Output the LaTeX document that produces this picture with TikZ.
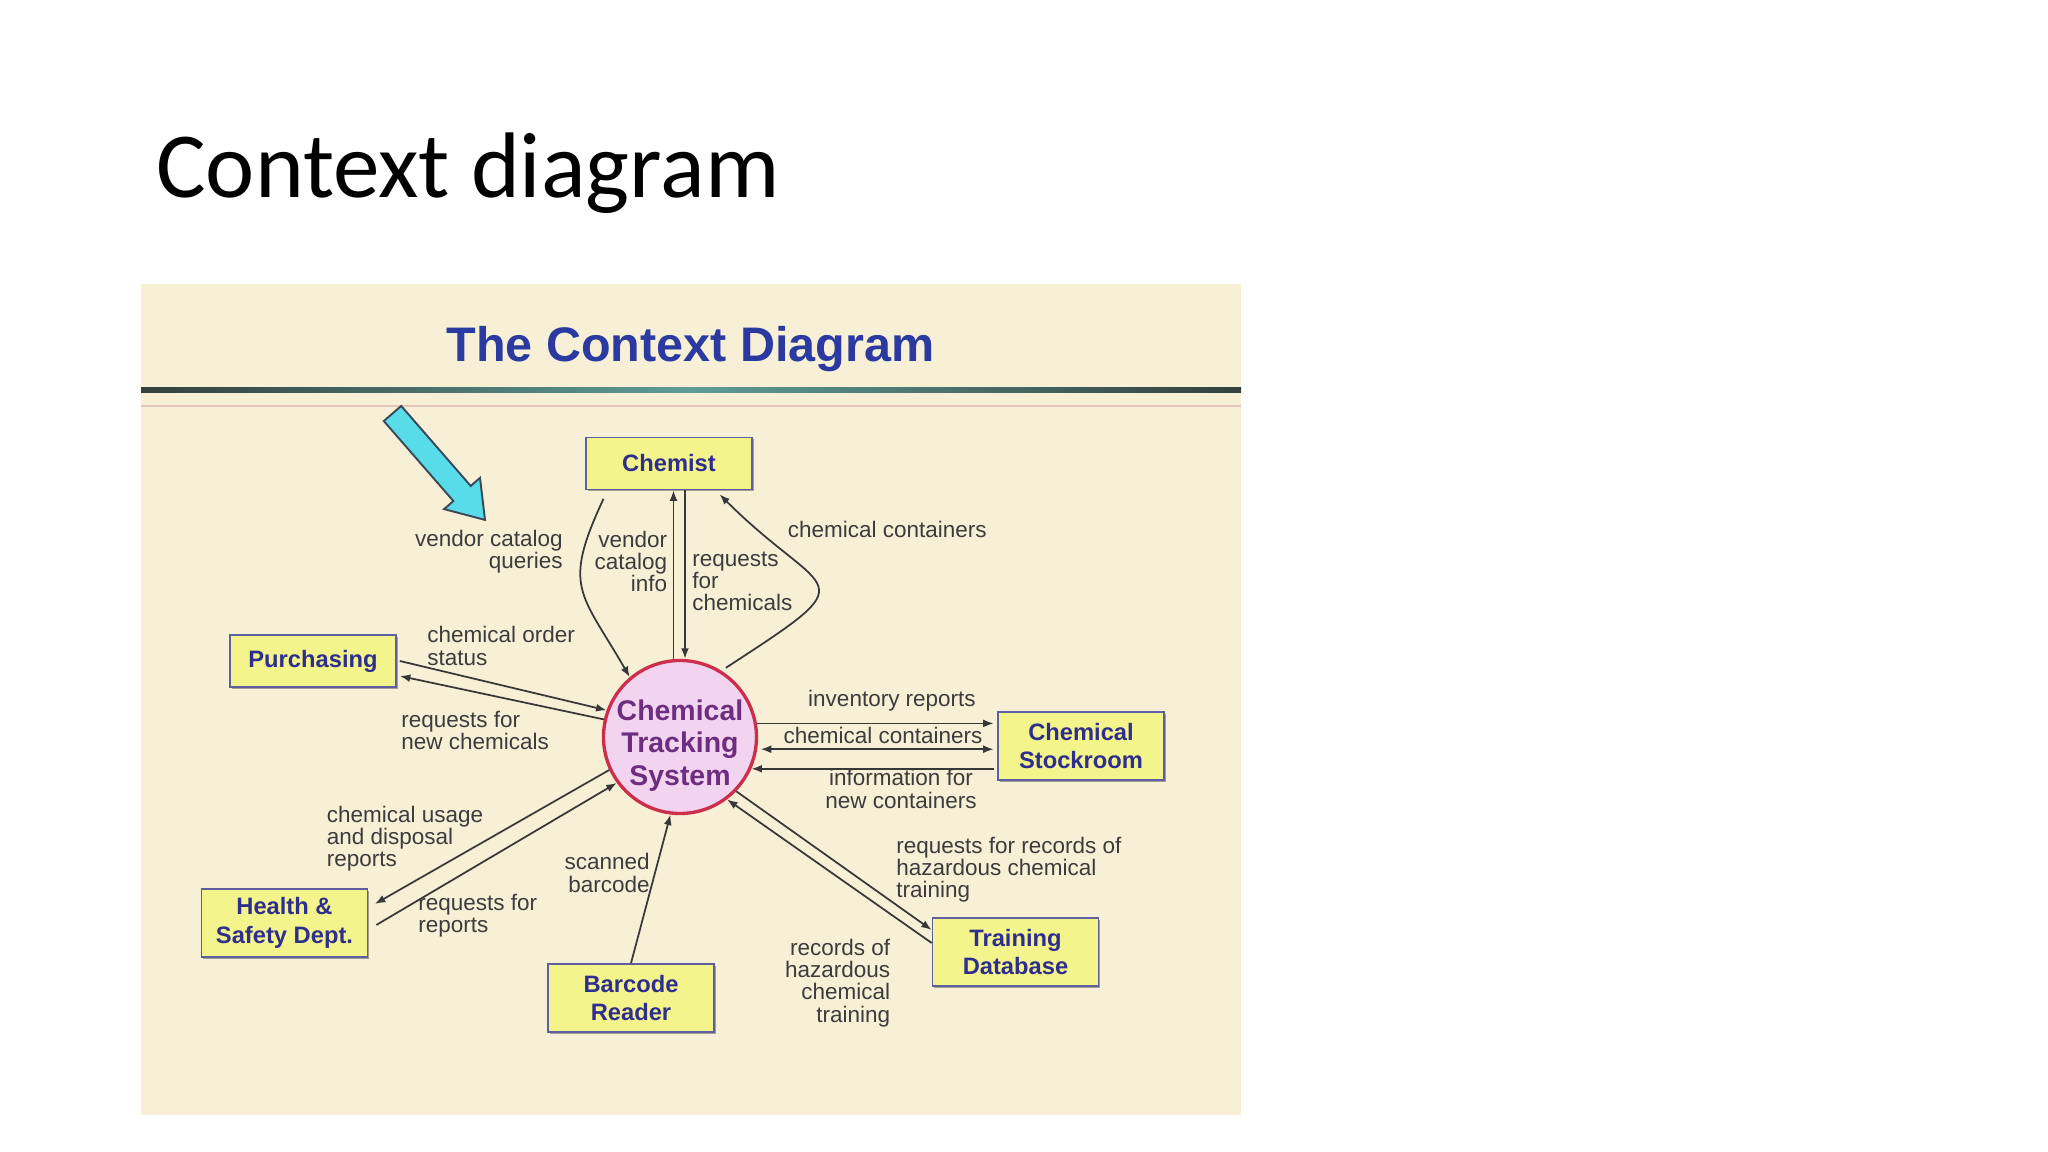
\documentclass[tikz,border=0pt]{standalone}
\usepackage{fontspec}
\setmainfont{Liberation Sans}
\newfontfamily\slidefont{Carlito}
\usetikzlibrary{arrows.meta, shadows}

\definecolor{panelbg}{HTML}{F8F0D6}
\definecolor{boxfill}{HTML}{F4F48C}
\definecolor{boxline}{HTML}{5E5EA0}
\definecolor{boxtext}{HTML}{2E2E8E}
\definecolor{circfill}{HTML}{F2D4F0}
\definecolor{circline}{HTML}{CC2E4C}
\definecolor{circtext}{HTML}{6E2E80}
\definecolor{linec}{HTML}{383838}
\definecolor{labelc}{HTML}{3C3C3C}
\definecolor{headblue}{HTML}{2A3AA0}
\definecolor{ruledark}{HTML}{34403C}
\definecolor{rulemid}{HTML}{5E9C98}
\definecolor{rulepink}{HTML}{E6C4C0}
\definecolor{arrowcyan}{HTML}{58DCEA}
\definecolor{arrowedge}{HTML}{3A4A58}

\begin{document}
\begin{tikzpicture}[>={Latex[length=6pt,width=4.5pt]},
    flow/.style={->, draw=linec, line width=1pt},
    entity/.style={draw=boxline, line width=0.9pt, fill=boxfill, text=boxtext,
        font=\fontsize{13.5}{16.4}\selectfont\bfseries, align=center,
        minimum width=3.32cm, minimum height=1.04cm, inner sep=2pt,
        drop shadow={shadow xshift=0.03cm, shadow yshift=-0.04cm, fill=black!70}},
    process/.style={circle, draw=circline, line width=1.9pt, fill=circfill,
        minimum size=3.06cm, inner sep=0pt},
    proctext/.style={text=circtext, font=\fontsize{16.2}{18.4}\selectfont\bfseries,
        align=center, inner sep=0pt},
    lbl/.style={text=labelc, font=\fontsize{12.8}{12.6}\selectfont, inner sep=0pt},
    pointer/.style={fill=arrowcyan, draw=arrowedge, line width=1.1pt, line join=miter}]

    % Slide and panel
    \useasboundingbox (0,0) rectangle (40.96,23.04);
    \fill[white] (0,0) rectangle (40.96,23.04);
    \fill[panelbg] (2.82,0.74) rectangle (24.82,17.36);

    % Slide title
    \node[anchor=base west, inner sep=0pt, font=\slidefont\fontsize{53}{60}\selectfont] (slidetitle) at (3.12,19.08) {Context diagram};

    % Panel heading and rules
    \node[anchor=base, inner sep=0pt, text=headblue, font=\fontsize{27.6}{32}\selectfont\bfseries] (heading) at (13.81,15.8) {The Context Diagram};
    \shade[left color=ruledark, right color=ruledark, middle color=rulemid] (2.82,15.195) rectangle (24.82,15.285);
    \draw[rulepink, line width=1.1pt] (2.82,14.92) -- (24.82,14.92);

    % Pointer arrow
    \begin{scope}[shift={(7.85,14.77)}, rotate=-49]
        \draw[pointer] (0,-0.23) -- (2.12,-0.23) -- (2.12,-0.476) -- (2.82,0) -- (2.12,0.476) -- (2.12,0.23) -- (0,0.23) -- cycle;
    \end{scope}

    % External entities
    \node[entity] (chemist) at (13.38,13.77) {Chemist};
    \node[entity] (purch) at (6.26,9.82) {Purchasing};
    \node[entity, minimum height=1.36cm] (stock) at (21.62,8.12) {Chemical\\Stockroom};
    \node[entity, minimum height=1.36cm] (hs) at (5.69,4.58) {Health \&\\Safety Dept.};
    \node[entity, minimum height=1.36cm] (barcode) at (12.62,3.08) {Barcode\\Reader};
    \node[entity, minimum height=1.36cm] (tdb) at (20.31,4.00) {Training\\Database};

    % The system
    \node[process] (ct) at (13.6,8.3) {};
    \node[proctext] (cttext) at ([yshift=-0.17cm]ct.center) {Chemical\\Tracking\\System};

    % Chemist flows
    \coordinate (vci) at ([xshift=-0.13cm]ct.north);
    \coordinate (rfc) at ([xshift=0.10cm]ct.north);
    \draw[flow] ([xshift=-1.31cm,yshift=-0.17cm]chemist.south) to[out=-115, in=120, looseness=1.4] (ct.130);
    \draw[flow] (vci) -- (vci |- chemist.south);
    \draw[flow] (rfc |- chemist.south) -- (rfc);
    \draw[flow, shorten <=3pt] (ct.58) to[out=33, in=-45, out distance=3.6cm, in distance=3cm] ([xshift=1.01cm,yshift=-0.08cm]chemist.south);

    % Purchasing flows
    \draw[flow] ([xshift=0.06cm]purch.east) -- (ct.160);
    \draw[flow] (ct.167) -- ([xshift=0.06cm,yshift=-0.3cm]purch.east);

    % Stockroom flows
    \coordinate (inv) at (ct.10);
    \coordinate (cont) at (ct.-9);
    \coordinate (info) at (ct.-24);
    \draw[flow, shorten >=2pt] (inv) -- (inv -| stock.west);
    \draw[flow, <->, shorten >=2pt, shorten <=2pt] (cont) -- (cont -| stock.west);
    \draw[flow, shorten <=2pt] (info -| stock.west) -- (info);

    % Health and safety flows
    \draw[flow] (ct.205) -- ([xshift=0.13cm,yshift=0.38cm]hs.east);
    \draw[flow] ([xshift=0.16cm,yshift=-0.04cm]hs.east) -- (ct.216);

    % Barcode flow
    \draw[flow] (barcode.north) -- (ct.263);

    % Training flows
    \draw[flow] (ct.-44) -- ([yshift=0.44cm]tdb.west);
    \draw[flow] ([yshift=0.18cm]tdb.west) -- (ct.-53);

    % Flow labels
    \node[lbl, anchor=east, align=right] (vcqlbl) at (11.26,12.0) {vendor catalog\\queries};
    \node[lbl, anchor=east, align=right] (vcilbl) at (13.35,11.81) {vendor\\catalog\\info};
    \node[lbl, anchor=west, align=left] (rfclbl) at (13.84,11.42) {requests\\for\\chemicals};
    \node[lbl, anchor=west] (cclbl) at (15.75,12.46) {chemical containers};
    \node[lbl, anchor=west, align=left] (coslbl) at (8.54,10.12) {chemical order\\status};
    \node[lbl, anchor=west, align=left] (rnclbl) at (8.02,8.43) {requests for\\new chemicals};
    \node[lbl] (invlbl) at (17.84,9.02) {inventory reports};
    \node[lbl] (contlbl) at (17.66,8.34) {chemical containers};
    \node[lbl, align=center] (infolbl) at (18.02,7.26) {information for\\new containers};
    \node[lbl, anchor=west, align=left] (cudlbl) at (6.53,6.27) {chemical usage\\and disposal\\reports};
    \node[lbl, anchor=west, align=left] (rfrlbl) at (8.36,4.72) {requests for\\reports};
    \node[lbl, anchor=east, align=right] (sblbl) at (13.0,5.58) {scanned\\barcode};
    \node[lbl, anchor=west, align=left] (rreclbl) at (17.92,5.64) {requests for records of\\hazardous chemical\\training};
    \node[lbl, anchor=east, align=right] (reclbl) at (17.81,3.38) {records of\\hazardous\\chemical\\training};
\end{tikzpicture}
\end{document}
